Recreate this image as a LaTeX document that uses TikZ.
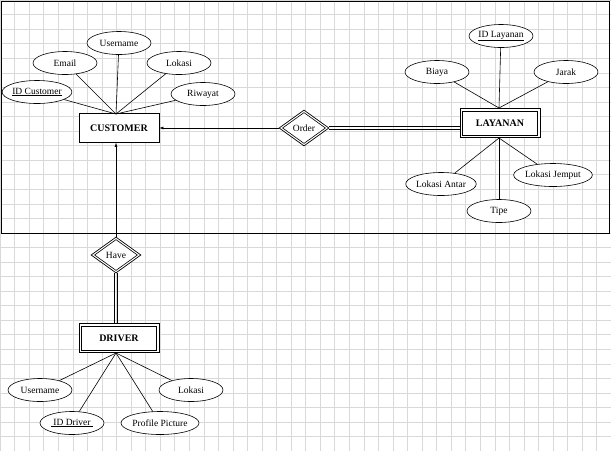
\documentclass[tikz,border=0pt]{standalone}
\usepackage{fontspec}
\setmainfont{Liberation Serif}
\usetikzlibrary{shapes.geometric,arrows.meta}
\begin{document}
\begin{tikzpicture}[x=1pt,y=-1pt,font=\fontsize{9.5}{11}\selectfont,
  attr/.style={draw,fill=white,line width=0.6pt,ellipse,minimum width=64pt,minimum height=23pt,inner sep=0pt},
  ent/.style={draw,fill=white,line width=0.7pt,minimum width=80pt,minimum height=29pt,font=\fontsize{10}{11}\selectfont\bfseries},
  rel/.style={draw,fill=white,line width=0.7pt,diamond,aspect=1.4,minimum width=50pt,minimum height=36pt,inner sep=0pt},
  irel/.style={draw,line width=0.6pt,diamond,aspect=1.4,minimum width=43pt,minimum height=31pt,inner sep=0pt},
  ln/.style={draw,line width=0.6pt},
  arr/.style={ln,-{Latex[length=4pt,width=3pt]}}]
\useasboundingbox (0,0) rectangle (611,451);
\fill[white] (0,0) rectangle (611,451);
\draw[black!15,step=14.55pt] (0,0) grid (611,451);
\draw[line width=0.8pt] (1,1) rectangle (609,233);
% customer
\node[ent] (cust) at (119,128) {CUSTOMER};
\node[attr] (cun) at (119,43) {Username};
\node[attr] (cem) at (65,63) {Email};
\node[attr] (clo) at (179,63) {Lokasi};
\node[attr] (cid) at (37,92) {\underline{ID Customer}};
\node[attr] (cri) at (203,94) {Riwayat};
\coordinate (ct) at (116,114);
\foreach \a in {cun,cem,clo,cid,cri} \draw[ln] (\a) -- (ct);
% layanan
\node[ent] (lay) at (500,123) {LAYANAN};
\draw[line width=0.7pt] ([shift={(3,3)}]lay.north west) rectangle ([shift={(-3,-3)}]lay.south east);
\node[attr] (lid) at (501,36) {\underline{ID Layanan}};
\node[attr] (lbi) at (437,72) {Biaya};
\node[attr] (lja) at (566,72) {Jarak};
\node[attr] (lan) at (441,184) {Lokasi Antar};
\node[attr] (lje) at (553,175) {Lokasi Jemput};
\node[attr] (lti) at (499,211) {Tipe};
\coordinate (lt) at (499,108);
\coordinate (lb) at (499,138);
\foreach \a in {lid,lbi,lja} \draw[ln] (\a) -- (lt);
\foreach \a in {lan,lje,lti} \draw[ln] (\a) -- (lb);
% order
\node[rel] (ord) at (304,128) {};
\node[irel] (ordi) at (304,128) {Order};
\draw[arr] (ord) -- (cust);
\draw[line width=0.6pt] ([yshift=-1.5]ord.east) -- ([yshift=-1.5]ord.east -| lay.west);
\draw[line width=0.6pt] ([yshift=1.5]ord.east) -- ([yshift=1.5]ord.east -| lay.west);
% have / driver
\node[rel] (have) at (116,255) {};
\node[irel] (havei) at (116,255) {Have};
\node[ent] (drv) at (119,338) {DRIVER};
\draw[line width=0.7pt] ([shift={(3,3)}]drv.north west) rectangle ([shift={(-3,-3)}]drv.south east);
\draw[arr] (have.north) -- (cust.south -| have.north);
\draw[line width=0.6pt] ([xshift=-1.5]have.south) -- ([xshift=-1.5]have.south |- drv.north);
\draw[line width=0.6pt] ([xshift=1.5]have.south) -- ([xshift=1.5]have.south |- drv.north);
\node[attr] (dun) at (40,390) {Username};
\node[attr] (did) at (72,423) {\underline{\ ID Driver\ }};
\node[attr,minimum width=72pt] (dpp) at (160,423) {Profile Picture};
\node[attr] (dlo) at (191,390) {Lokasi};
\coordinate (dt) at (116,353);
\foreach \a in {dun,did,dpp,dlo} \draw[ln] (\a) -- (dt);
\end{tikzpicture}
\end{document}
